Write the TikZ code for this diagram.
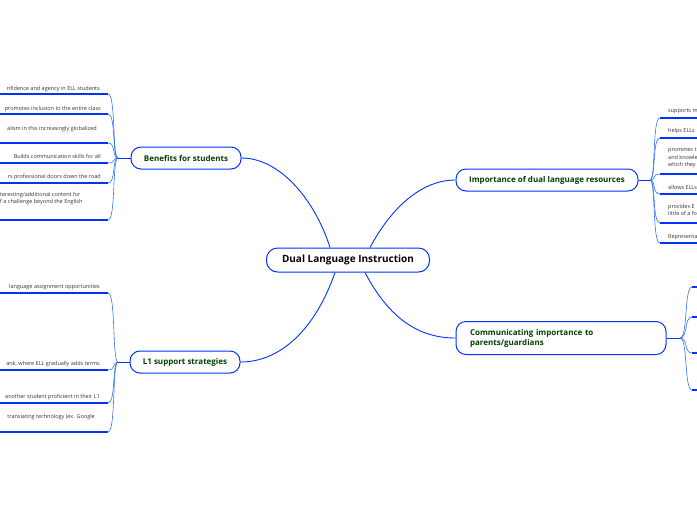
\documentclass[tikz,border=0pt]{standalone}
\usepackage{fontspec}
\setmainfont{Open Sans}
\begin{document}
\begin{tikzpicture}[x=1pt,y=-1pt,
  topic/.style={draw=blue!80!cyan,line width=1pt,rounded corners=10pt,fill=white,text=green!25!black,font=\bfseries\fontsize{8}{10}\selectfont,inner sep=0pt,anchor=center},
  ctr/.style={topic,rounded corners=11pt,text=black,font=\bfseries\fontsize{10}{12}\selectfont},
  leaf/.style={font=\fontsize{5.5}{7.5}\selectfont,text=black!80,align=left,inner sep=0pt},
  uline/.style={draw=blue!80!cyan,line width=1.2pt},
  conn/.style={draw=blue!70!cyan!80,line width=0.6pt},
  mainc/.style={draw=blue!80!cyan,line width=0.9pt}]
\useasboundingbox (0,0) rectangle (697,520);
\clip (0,0) rectangle (697,520);
% central and topics
\node[ctr,minimum width=163pt,minimum height=24pt] (c) at (348,260) {Dual Language Instruction};
\node[topic,minimum width=110pt,minimum height=22pt] (b) at (186,158) {Benefits for students};
\node[topic,minimum width=110pt,minimum height=22pt] (l) at (185,362) {L1 support strategies};
\node[topic,minimum width=182pt,minimum height=22pt] (i) at (547,180) {Importance of dual language resources};
\node[topic,minimum width=210pt,minimum height=33pt,align=left,text width=182pt] (m) at (561,338) {Communicating importance to\\parents/guardians};
\draw[mainc] (c.north)++(-18,0) coordinate (c1) .. controls (315,200) and (280,158) .. (b.east);
\draw[mainc] (c.south)++(-13,0) coordinate (c2) .. controls (315,330) and (280,362) .. (l.east);
\draw[mainc] (c.north)++(22,0) coordinate (c3) .. controls (390,210) and (420,180) .. (i.west);
\draw[mainc] (c.south)++(17,0) coordinate (c4) .. controls (390,320) and (420,338) .. (m.west);
% left leaves: benefits
\coordinate (bj) at (118,158);
\draw[mainc] (b.west) -- (bj);
\foreach \y in {94,114,143,163,183,220}{
  \coordinate (e) at (108,\y);
  \draw[uline] (-5,\y) -- (e);
  \draw[conn] (e) .. controls (116,\y) and (112,158) .. (bj);
}
\node[leaf,anchor=base east] (b1) at (100,90) {nfidence and agency in ELL students};
\node[leaf,anchor=base east] (b2) at (101,110) {promotes inclusion to the entire class};
\node[leaf,anchor=base east] (b3) at (97,130) {alism in this increasingly globalized};
\node[leaf,anchor=base east] (b4) at (101,158) {Builds communication skills for all};
\node[leaf,anchor=base east] (b5) at (101,178) {rs professional doors down the road};
\node[leaf,anchor=north west] (b6) at (0,192) {teresting/additional content for\\f a challenge beyond the English};
% left leaves: L1
\coordinate (lj) at (118,362);
\draw[mainc] (l.west) -- (lj);
\foreach \y in {293,370,403,432}{
  \coordinate (e) at (108,\y);
  \draw[uline] (-5,\y) -- (e);
  \draw[conn] (e) .. controls (116,\y) and (112,362) .. (lj);
}
\node[leaf,anchor=base east] (l1) at (100,288) {language assignment opportunities};
\node[leaf,anchor=base east] (l2) at (100,365) {ank, where ELL gradually adds terms};
\node[leaf,anchor=base east] (l3) at (100,398) {another student proficient in their L1};
\node[leaf,anchor=base east] (l4) at (95,418) {translating technology (ex. Google};
% right leaves: importance
\coordinate (ij) at (650,180);
\draw[mainc] (i.east) -- (ij);
\foreach \y in {118,138,174,194,223,243}{
  \coordinate (e) at (660,\y);
  \draw[uline] (e) -- (705,\y);
  \draw[conn] (e) .. controls (652,\y) and (656,180) .. (ij);
}
\node[leaf,anchor=base west] (i1) at (668,112) {supports m};
\node[leaf,anchor=base west] (i2) at (668,132) {helps ELLs};
\node[leaf,anchor=north west] (i3) at (668,148) {promotes t\\and knowle\\which they};
\node[leaf,anchor=base west] (i4) at (668,189) {allows ELLs};
\node[leaf,anchor=north west] (i5) at (668,204) {provides E\\little of a fo};
\node[leaf,anchor=base west] (i6) at (668,238) {Representa};
% right leaves: communicating
\coordinate (mj) at (680,338);
\draw[mainc] (m.east) -- (mj);
\foreach \y in {287,317,353,390}{
  \coordinate (e) at (692,\y);
  \draw[uline] (e) -- (705,\y);
  \draw[conn] (e) .. controls (684,\y) and (688,338) .. (mj);
}
\end{tikzpicture}
\end{document}
